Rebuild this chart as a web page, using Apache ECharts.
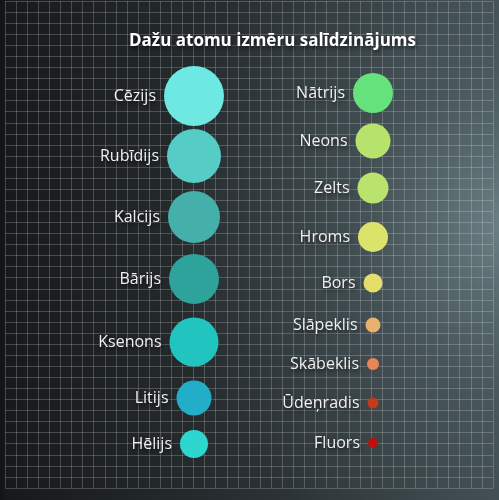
<!DOCTYPE html>
<html>
<head>
<meta charset="utf-8">
<script src="https://cdn.jsdelivr.net/npm/echarts@6/dist/echarts.min.js"></script>
<style>html,body{margin:0;padding:0;background:#1b1f21;}#c{width:499px;height:500px;}</style>
</head>
<body>
<div id="c"></div>
<script>
// ---- data ----
const titleText = 'Dažu atomu izmēru salīdzinājums';
const leftNames = ['Cēzijs', 'Rubīdijs', 'Kalcijs', 'Bārijs', 'Ksenons', 'Litijs', 'Hēlijs'];
const leftSizes = [60, 54, 52, 50, 49, 35, 28];
const rightNames = ['Nātrijs', 'Neons', 'Zelts', 'Hroms', 'Bors', 'Slāpeklis', 'Skābeklis', 'Ūdeņradis', 'Fluors'];
const rightSizes = [40, 35, 31, 30, 19, 15, 12, 11, 10];
const columns = ['A', 'B'];
// row positions (layout along the vertical value axis)
const leftRows = [96, 156, 217, 279, 342, 398, 444];
const rightRows = [93, 141, 188, 237, 283, 325, 364, 403, 443];
// ---- styles ----
const leftColors = ['#6de8e2', '#55ccc6', '#45b0aa', '#2ea39b', '#22c4bf', '#22aec8', '#2dd7ce'];
const rightColors = ['#66e27c', '#b7e36c', '#b9e36c', '#dce36a', '#e6dd6a', '#e9b06e', '#e8855a', '#c43a1c', '#c0100e'];

function mk(names, sizes, rows, colors, col) {
  return names.map((n, i) => ({
    name: n,
    value: [col, rows[i]],
    symbolSize: sizes[i],
    itemStyle: { color: colors[i], opacity: 1 }
  }));
}

const labelStyle = {
  show: true,
  position: 'left',
  distance: 8,
  formatter: '{b}',
  color: '#f0f0f0',
  fontSize: 16,
  fontFamily: 'Open Sans',
  textShadowColor: 'rgba(0,0,0,0.7)',
  textShadowBlur: 4,
  textShadowOffsetX: 1,
  textShadowOffsetY: 2
};

const chart = echarts.init(document.getElementById('c'), null, { renderer: 'canvas' });
chart.setOption({
  animation: false,
  backgroundColor: {
    type: 'linear', x: 0, y: 0, x2: 1, y2: 0,
    colorStops: [
      { offset: 0, color: '#111416' },
      { offset: 0.015, color: '#171a1c' },
      { offset: 0.5, color: '#292f32' },
      { offset: 1, color: '#3e4a4e' }
    ]
  },
  graphic: [{
    type: 'rect', z: -10, silent: true,
    shape: { x: 0, y: 0, width: 499, height: 500 },
    style: {
      fill: {
        type: 'radial', x: 1.02, y: 0.45, r: 0.7,
        colorStops: [
          { offset: 0, color: 'rgba(140,165,170,0.6)' },
          { offset: 0.45, color: 'rgba(110,135,140,0.25)' },
          { offset: 1, color: 'rgba(100,120,125,0)' }
        ]
      }
    }
  }],
  title: {
    text: titleText,
    left: 124,
    top: 28,
    textStyle: {
      color: '#ffffff',
      fontSize: 17,
      fontWeight: 'bold',
      fontFamily: 'Open Sans',
      textShadowColor: 'rgba(0,0,0,0.7)',
      textShadowBlur: 4,
      textShadowOffsetX: 1,
      textShadowOffsetY: 2
    }
  },
  grid: [
    { left: 5, top: 1, width: 488, height: 487 },
    { left: 104.5, top: 0, width: 358, height: 500 }
  ],
  xAxis: [
    { gridIndex: 0, type: 'value', min: 0, max: 44, interval: 1,
      axisLine: { show: false }, axisTick: { show: false }, axisLabel: { show: false },
      splitLine: { show: true, lineStyle: { color: 'rgba(255,255,255,0.2)', width: 1 } } },
    { gridIndex: 1, type: 'category', data: columns, show: false }
  ],
  yAxis: [
    { gridIndex: 0, type: 'value', min: 0, max: 44, interval: 1,
      axisLine: { show: false }, axisTick: { show: false }, axisLabel: { show: false },
      splitLine: { show: true, lineStyle: { color: 'rgba(255,255,255,0.2)', width: 1 } } },
    { gridIndex: 1, type: 'value', min: 0, max: 500, inverse: true, show: false,
      splitLine: { show: false } }
  ],
  series: [
    { type: 'scatter', xAxisIndex: 1, yAxisIndex: 1, symbol: 'circle',
      itemStyle: { opacity: 1 },
      data: mk(leftNames, leftSizes, leftRows, leftColors, 0), label: labelStyle },
    { type: 'scatter', xAxisIndex: 1, yAxisIndex: 1, symbol: 'circle',
      itemStyle: { opacity: 1 },
      data: mk(rightNames, rightSizes, rightRows, rightColors, 1), label: labelStyle }
  ]
});
</script>
</body>
</html>
